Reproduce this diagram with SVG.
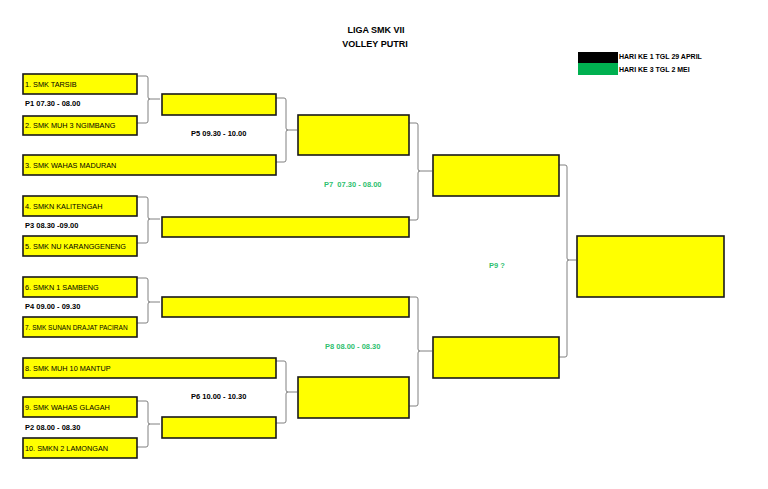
<svg xmlns="http://www.w3.org/2000/svg" width="768" height="489" viewBox="0 0 768 489">
<style>
.box{fill:#FFFF00;stroke:#1a1a1a;stroke-width:1.6}
.team{font-family:"Liberation Sans",Arial,sans-serif;font-size:7.3px;fill:#000}
.lbl{font-family:"Liberation Sans",Arial,sans-serif;font-size:7.5px;font-weight:bold;fill:#000}
.glbl{font-family:"Liberation Sans",Arial,sans-serif;font-size:7.5px;font-weight:bold;fill:#2fbf6f}
.title{font-family:"Liberation Sans",Arial,sans-serif;font-size:9px;font-weight:bold;fill:#000;text-anchor:middle}
.leg{font-family:"Liberation Sans",Arial,sans-serif;font-size:7px;font-weight:bold;fill:#000}
.br{fill:none;stroke:#808080;stroke-width:1}
</style>
<rect width="768" height="489" fill="#fff"/>
<g id="title">
<text class="title" x="376" y="33">LIGA SMK VII</text>
<text class="title" x="375" y="47">VOLLEY PUTRI</text>
</g>
<g id="legend">
<rect x="578" y="52" width="40" height="11" fill="#000"/>
<rect x="578" y="63" width="40" height="12" fill="#00B050"/>
<text class="leg" x="619" y="59">HARI KE 1 TGL 29 APRIL</text>
<text class="leg" x="619" y="72">HARI KE 3 TGL 2 MEI</text>
</g>
<g id="connectors">
<path class="br" d="M137,76 H146 Q148,76 148,78 V97 Q148,99 150,99 H160 M150,99 Q148,99 148,101 V121 Q148,123 146,123 H137"/>
<path class="br" d="M137,197 H146 Q148,197 148,199 V217 Q148,219 150,219 H160 M150,219 Q148,219 148,221 V241 Q148,243 146,243 H137"/>
<path class="br" d="M137,278 H146 Q148,278 148,280 V300 Q148,302 150,302 H160 M150,302 Q148,302 148,304 V321 Q148,323 146,323 H137"/>
<path class="br" d="M137,401 H146 Q148,401 148,403 V422 Q148,424 150,424 H160 M150,424 Q148,424 148,426 V445 Q148,447 146,447 H137"/>
<path class="br" d="M276,98 H284 Q286,98 286,100 V128 Q286,130 288,130 H297 M288,130 Q286,130 286,132 V160 Q286,162 284,162 H276"/>
<path class="br" d="M276,361 H284 Q286,361 286,363 V390 Q286,392 288,392 H297 M288,392 Q286,392 286,394 V421 Q286,423 284,423 H276"/>
<path class="br" d="M409,123 H416 Q418,123 418,125 V169 Q418,171 420,171 H432 M420,171 Q418,171 418,173 V218 Q418,220 416,220 H409"/>
<path class="br" d="M409,297 H416 Q418,297 418,299 V349 Q418,351 420,351 H432 M420,351 Q418,351 418,353 V404 Q418,406 416,406 H409"/>
<path class="br" d="M559,165 H565 Q567,165 567,167 V258 Q567,260 569,260 H576 M569,260 Q567,260 567,262 V355 Q567,357 565,357 H559"/>
</g>
<g id="team1"><rect class="box" x="23" y="74" width="114" height="20"/><text class="team" x="25" y="86.5">1. SMK TARSIB</text></g>
<g id="team2"><rect class="box" x="23" y="116" width="114" height="19"/><text class="team" x="25" y="128">2. SMK MUH 3 NGIMBANG</text></g>
<g id="team3"><rect class="box" x="23" y="155" width="253" height="20"/><text class="team" x="25" y="167.5">3. SMK WAHAS MADURAN</text></g>
<g id="team4"><rect class="box" x="23" y="196" width="114" height="20"/><text class="team" x="25" y="208.5">4. SMKN KALITENGAH</text></g>
<g id="team5"><rect class="box" x="23" y="236" width="114" height="20"/><text class="team" x="25" y="248.5">5. SMK NU KARANGGENENG</text></g>
<g id="team6"><rect class="box" x="23" y="277" width="114" height="20"/><text class="team" x="25" y="289.5">6. SMKN 1 SAMBENG</text></g>
<g id="team7"><rect class="box" x="23" y="317" width="114" height="20"/><text class="team" x="25" y="329.5" style="font-size:6.5px">7. SMK SUNAN DRAJAT PACIRAN</text></g>
<g id="team8"><rect class="box" x="23" y="358" width="253" height="20"/><text class="team" x="25" y="370.5">8. SMK MUH 10 MANTUP</text></g>
<g id="team9"><rect class="box" x="23" y="397" width="114" height="20"/><text class="team" x="25" y="409.5">9. SMK WAHAS GLAGAH</text></g>
<g id="team10"><rect class="box" x="23" y="438" width="114" height="20"/><text class="team" x="25" y="450.5">10. SMKN 2 LAMONGAN</text></g>
<g id="w1"><rect class="box" x="162" y="94" width="114" height="21"/></g>
<g id="w3"><rect class="box" x="162" y="217" width="247" height="20"/></g>
<g id="w4"><rect class="box" x="162" y="297" width="247" height="20"/></g>
<g id="w2"><rect class="box" x="162" y="417" width="114" height="21"/></g>
<g id="w5"><rect class="box" x="298" y="115" width="111" height="40"/></g>
<g id="w6"><rect class="box" x="298" y="377" width="111" height="41"/></g>
<g id="w7"><rect class="box" x="433" y="155" width="126" height="41"/></g>
<g id="w8"><rect class="box" x="433" y="337" width="126" height="41"/></g>
<g id="w9"><rect class="box" x="577" y="236" width="147" height="61"/></g>
<g id="labels">
<text class="lbl" x="25" y="106">P1 07.30 - 08.00</text>
<text class="lbl" x="25" y="228">P3 08.30 -09.00</text>
<text class="lbl" x="25" y="309">P4 09.00 - 09.30</text>
<text class="lbl" x="25" y="430">P2 08.00 - 08.30</text>
<text class="lbl" x="191" y="136">P5 09.30 - 10.00</text>
<text class="lbl" x="191" y="399">P6 10.00 - 10.30</text>
<text class="glbl" x="324" y="187" xml:space="preserve">P7  07.30 - 08.00</text>
<text class="glbl" x="325" y="349">P8 08.00 - 08.30</text>
<text class="glbl" x="489" y="268">P9 ?</text>
</g>
</svg>
